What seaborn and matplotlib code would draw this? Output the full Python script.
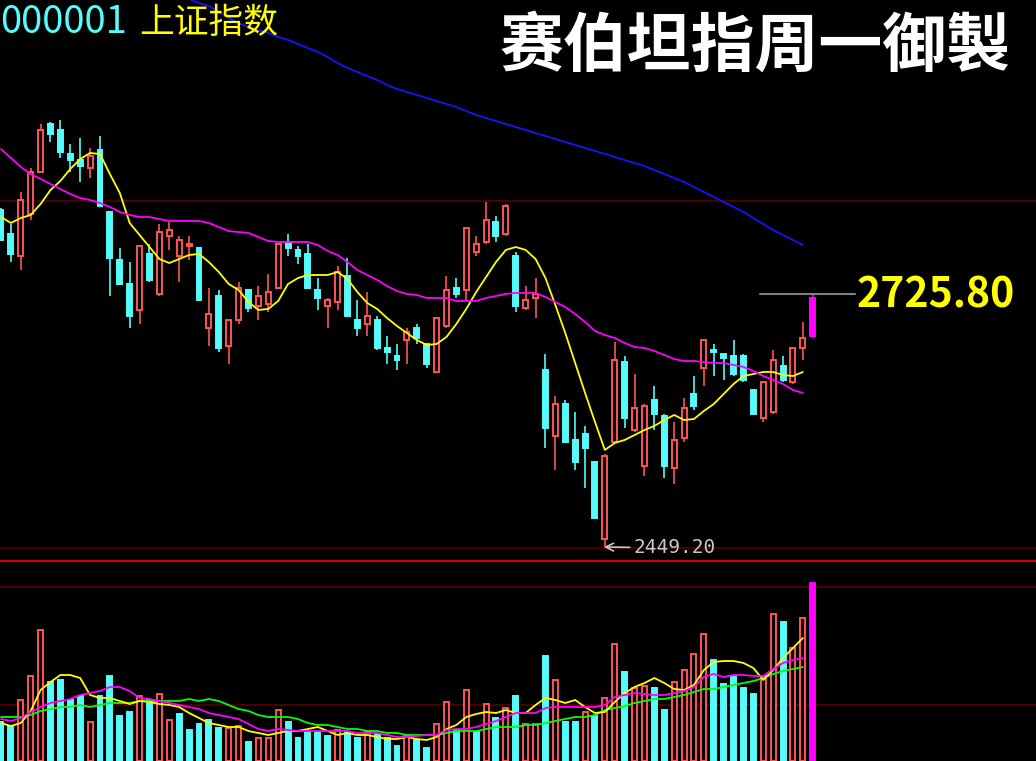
import numpy as np
import pandas as pd
import matplotlib
matplotlib.use("Agg")
import matplotlib.pyplot as plt
from matplotlib.patches import Rectangle
import seaborn as sns

# Daily bars of 000001 (Shanghai Composite)
opens = [2817.6, 2791.3, 2767.3, 2813.2, 2859.1, 2911.6, 2905.0, 2878.8, 2872.2, 2863.5,
         2883.2, 2815.4, 2762.9, 2736.7, 2708.3, 2769.5, 2725.8, 2789.2, 2767.3, 2778.2,
         2776.0, 2688.6, 2723.6, 2668.9, 2697.3, 2730.1, 2712.6, 2714.8, 2732.3, 2782.6,
         2773.9, 2769.5, 2730.1, 2712.6, 2717.0, 2745.4, 2697.3, 2693.0, 2697.3, 2666.7,
         2658.0, 2675.5, 2688.6, 2671.1, 2640.5, 2690.8, 2732.3, 2730.1, 2771.7, 2782.6,
         2804.5, 2791.3, 2767.3, 2710.5, 2721.4, 2642.7, 2570.6, 2605.5, 2566.2, 2572.7,
         2542.1, 2458.0, 2564.0, 2651.4, 2577.1, 2537.8, 2609.9, 2592.4, 2535.6, 2568.4,
         2616.5, 2644.9, 2664.6, 2660.2, 2658.0, 2658.0, 2620.8, 2590.2, 2596.8, 2647.1,
         2629.6, 2666.7, 2679.9]
highs = [2819.8, 2802.3, 2837.2, 2863.5, 2911.6, 2913.8, 2915.9, 2889.7, 2896.3, 2885.3,
         2898.5, 2815.4, 2776.0, 2760.7, 2778.2, 2780.4, 2802.3, 2804.5, 2789.2, 2789.2,
         2776.0, 2732.3, 2730.1, 2697.3, 2738.9, 2730.1, 2734.5, 2747.6, 2780.4, 2791.3,
         2778.2, 2780.4, 2743.2, 2721.4, 2756.4, 2765.1, 2719.2, 2727.9, 2701.7, 2679.9,
         2671.1, 2688.6, 2693.0, 2671.1, 2699.5, 2745.4, 2743.2, 2797.9, 2789.2, 2826.3,
         2811.0, 2824.1, 2771.7, 2734.5, 2743.2, 2660.2, 2614.3, 2609.9, 2596.8, 2581.5,
         2542.1, 2550.9, 2673.3, 2658.0, 2638.3, 2605.5, 2625.2, 2594.6, 2585.9, 2612.1,
         2636.1, 2675.5, 2671.1, 2660.2, 2675.5, 2660.2, 2620.8, 2629.6, 2664.6, 2658.0,
         2666.7, 2695.2, 2725.8]
lows = [2784.8, 2760.7, 2752.0, 2806.6, 2859.1, 2891.9, 2874.4, 2859.1, 2848.2, 2852.6,
        2821.9, 2723.6, 2736.7, 2688.6, 2693.0, 2738.9, 2723.6, 2773.9, 2738.9, 2762.9,
        2719.2, 2668.9, 2662.4, 2649.3, 2693.0, 2706.1, 2697.3, 2706.1, 2732.3, 2767.3,
        2758.5, 2732.3, 2708.3, 2688.6, 2708.3, 2701.7, 2679.9, 2679.9, 2664.6, 2649.3,
        2642.7, 2649.3, 2671.1, 2644.9, 2640.5, 2688.6, 2721.4, 2719.2, 2767.3, 2780.4,
        2782.6, 2789.2, 2706.1, 2708.3, 2699.5, 2557.4, 2533.4, 2564.0, 2533.4, 2513.7,
        2480.9, 2449.2, 2564.0, 2579.3, 2574.9, 2526.8, 2577.1, 2524.7, 2518.1, 2564.0,
        2599.0, 2625.2, 2636.1, 2631.8, 2636.1, 2629.6, 2594.6, 2585.9, 2594.6, 2629.6,
        2627.4, 2653.6, 2677.7]
closes = [2784.8, 2769.5, 2828.5, 2859.1, 2905.0, 2900.6, 2881.0, 2872.2, 2865.7, 2876.6,
          2821.9, 2765.1, 2736.7, 2701.7, 2778.2, 2741.1, 2793.5, 2795.7, 2784.8, 2780.4,
          2719.2, 2703.9, 2666.7, 2697.3, 2732.3, 2710.5, 2723.6, 2727.9, 2780.4, 2776.0,
          2767.3, 2732.3, 2721.4, 2719.2, 2749.8, 2701.7, 2688.6, 2701.7, 2666.7, 2662.4,
          2653.6, 2684.2, 2677.7, 2649.3, 2699.5, 2730.1, 2725.8, 2797.9, 2780.4, 2806.6,
          2789.2, 2821.9, 2712.6, 2719.2, 2725.8, 2579.3, 2605.5, 2564.0, 2542.1, 2557.4,
          2480.9, 2548.7, 2653.6, 2590.2, 2601.2, 2603.3, 2594.6, 2537.8, 2566.2, 2601.2,
          2603.3, 2675.5, 2662.4, 2655.8, 2638.3, 2631.8, 2594.6, 2629.6, 2653.6, 2631.8,
          2666.7, 2677.7, 2721.4]

# moving averages on the price pane (the last bar has none)
ma_short = [2809.9, 2803.4, 2808.8, 2812.1, 2824.1, 2839.4, 2849.3, 2862.4, 2873.3, 2879.9,
            2878.8, 2856.9, 2836.2, 2803.4, 2790.2, 2777.1, 2764.0, 2759.6, 2764.0, 2768.4,
            2769.5, 2760.7, 2749.8, 2736.7, 2730.1, 2717.0, 2708.3, 2709.4, 2718.1, 2736.7,
            2743.2, 2746.5, 2746.5, 2746.5, 2749.8, 2742.2, 2727.9, 2715.9, 2709.4, 2699.5,
            2690.8, 2683.1, 2675.5, 2670.0, 2671.1, 2678.8, 2693.0, 2709.4, 2727.9, 2744.3,
            2760.7, 2773.9, 2777.1, 2773.9, 2764.0, 2743.2, 2713.7, 2683.1, 2650.3, 2617.6,
            2585.9, 2555.3, 2562.9, 2566.2, 2571.6, 2577.1, 2581.5, 2588.0, 2593.5, 2588.0,
            2589.1, 2597.9, 2605.5, 2616.5, 2627.4, 2636.1, 2638.3, 2640.5, 2640.5, 2637.2,
            2636.1, 2640.5]
ma_mid = [2884.2, 2874.4, 2864.6, 2856.9, 2851.5, 2846.0, 2840.5, 2835.1, 2830.7, 2828.5,
          2825.2, 2820.9, 2815.4, 2812.1, 2809.9, 2809.9, 2807.7, 2805.6, 2805.6, 2805.6,
          2805.6, 2803.4, 2799.0, 2794.6, 2793.5, 2792.4, 2788.1, 2783.7, 2782.6, 2782.6,
          2782.6, 2782.6, 2779.3, 2772.8, 2768.4, 2760.7, 2752.0, 2746.5, 2741.1, 2734.5,
          2729.0, 2725.8, 2724.7, 2721.4, 2721.4, 2721.4, 2718.1, 2718.1, 2718.1, 2721.4,
          2723.6, 2725.8, 2726.9, 2726.9, 2726.9, 2722.5, 2717.0, 2711.5, 2703.9, 2695.2,
          2685.3, 2680.9, 2677.7, 2672.2, 2667.8, 2666.7, 2663.5, 2659.1, 2654.7, 2652.5,
          2652.5, 2651.4, 2650.3, 2650.3, 2648.2, 2646.0, 2641.6, 2636.1, 2631.8, 2627.4,
          2620.8, 2617.6]
long_start = 18
ma_long = [3051.5, 3048.2, 3043.8, 3040.5, 3034.0, 3027.4, 3021.9, 3017.6, 3014.3, 3011.0,
           3006.7, 3003.4, 2999.0, 2994.6, 2990.3, 2984.8, 2978.2, 2972.8, 2968.4, 2964.0,
           2959.7, 2954.2, 2949.8, 2946.5, 2943.3, 2940.0, 2936.7, 2933.4, 2930.1, 2925.8,
           2921.4, 2918.1, 2914.8, 2911.6, 2908.3, 2905.0, 2901.7, 2898.5, 2895.2, 2891.9,
           2888.6, 2885.3, 2882.1, 2878.8, 2875.5, 2872.2, 2868.9, 2865.7, 2861.3, 2856.9,
           2852.6, 2848.2, 2842.7, 2837.2, 2831.8, 2826.3, 2820.9, 2815.4, 2808.8, 2802.3,
           2795.7, 2790.2, 2784.8, 2779.3]

# volume pane (arbitrary units)
volume = [39, 35, 61, 85, 131, 79, 81, 61, 65, 39,
          65, 85, 45, 49, 65, 61, 67, 41, 47, 31,
          37, 41, 33, 33, 35, 19, 23, 23, 51, 39,
          23, 29, 29, 25, 31, 29, 23, 29, 27, 23,
          15, 25, 21, 13, 37, 59, 31, 71, 29, 57,
          43, 53, 65, 37, 37, 105, 81, 39, 39, 49,
          45, 63, 117, 89, 73, 75, 73, 51, 79, 91,
          107, 127, 101, 77, 85, 73, 67, 85, 147, 139,
          113, 143, 178]
vol_ma5 = [38, 35, 38, 50, 71, 79, 86, 86, 83, 66,
           63, 63, 60, 57, 60, 59, 57, 56, 54, 48,
           43, 38, 36, 34, 34, 30, 28, 26, 28, 30,
           30, 32, 34, 30, 26, 28, 26, 26, 24, 22,
           22, 24, 22, 21, 24, 32, 36, 44, 47, 49,
           48, 51, 48, 48, 56, 63, 61, 58, 61, 54,
           48, 49, 59, 68, 74, 78, 83, 78, 72, 71,
           76, 91, 99, 100, 100, 98, 93, 81, 91, 103,
           113, 123]
vol_ma10 = [42, 40, 43, 49, 54, 58, 60, 62, 66, 68,
            70, 74, 74, 70, 63, 62, 60, 58, 56, 54,
            52, 48, 46, 44, 42, 37, 32, 30, 32, 31,
            30, 30, 30, 30, 30, 30, 28, 28, 28, 26,
            24, 24, 25, 26, 26, 31, 32, 32, 34, 37,
            40, 44, 48, 48, 48, 53, 54, 54, 54, 54,
            54, 56, 64, 66, 68, 67, 66, 66, 68, 70,
            74, 84, 87, 84, 86, 86, 85, 85, 92, 98,
            101, 103]
vol_ma20 = [44, 44, 44, 46, 50, 52, 54, 54, 56, 54,
            56, 58, 58, 58, 60, 60, 60, 60, 60, 62,
            60, 62, 60, 56, 52, 50, 46, 44, 44, 44,
            42, 38, 36, 36, 34, 32, 32, 30, 30, 28,
            28, 26, 26, 26, 26, 28, 30, 30, 30, 32,
            34, 34, 34, 36, 36, 38, 40, 42, 44, 44,
            46, 51, 53, 55, 58, 60, 62, 62, 64, 66,
            69, 72, 72, 74, 76, 78, 80, 83, 87, 90,
            92, 94]

sns.set_theme(style="dark", rc={"axes.facecolor": "black", "figure.facecolor": "black"})
plt.rcParams["font.family"] = ["Noto Sans CJK SC", "DejaVu Sans"]

RED = "#ff5454"
CYAN = "#54fcfc"
MAG = "#ff00ff"
YEL = "#ffff00"
GRID = "#480000"
GRAY = "#c8c8c8"

bars = pd.DataFrame({"open": opens, "high": highs, "low": lows,
                     "close": closes, "vol": volume})
n = len(bars)
x = np.arange(n)
bars["up"] = bars["close"] >= bars["open"]
prev = bars["close"].shift(1)
# volume colour follows the change against the previous close
bars["vol_up"] = (bars["close"] >= prev).where(prev.notna(), bars["up"]).astype(bool)

W, H = 1036, 761
fig = plt.figure(figsize=(W / 100, H / 100), dpi=100, facecolor="black")
ax = fig.add_axes([0, 201 / H, 1, 560 / H])
axv = fig.add_axes([0, 0, 1, 199 / H])
for a in (ax, axv):
    a.set_axis_off()
    a.set_xlim(-0.1, 104.55)
ax.set_ylim(2435.0, 3047.1)
axv.set_ylim(0, 199)

# -------------------------------
# price pane: candles
# -------------------------------
body_w = 0.5
edge_lw = 1.4
for i, r in bars.iterrows():
    top, bot = max(r.open, r.close), min(r.open, r.close)
    h = max(top - bot, 0.8)
    if i == n - 1:
        col, face = MAG, MAG
    elif r.up:
        col, face = RED, "black"
    else:
        col, face = CYAN, CYAN
    ax.vlines(i, top, r.high, color=col, lw=1.2, zorder=2)
    ax.vlines(i, r.low, bot, color=col, lw=1.2, zorder=2)
    ax.add_patch(Rectangle((i - body_w / 2, bot), body_w, h, facecolor=face,
                           edgecolor=col, lw=edge_lw, zorder=3))

sns.lineplot(x=x[:len(ma_short)], y=ma_short, ax=ax, color=YEL, lw=1.3, zorder=4)
sns.lineplot(x=x[:len(ma_mid)], y=ma_mid, ax=ax, color=MAG, lw=1.3, zorder=4)
sns.lineplot(x=x[long_start:long_start + len(ma_long)], y=ma_long, ax=ax,
             color="#1414ff", lw=1.3, zorder=4)

ax.axhline(2827.4, color=GRID, lw=1.5, zorder=0)
ax.axhline(2448.1, color=GRID, lw=1.5, zorder=0)

# last price marker
hi = bars["high"].iloc[-1]
ax.plot([n - 1 - 5.3, n - 1 + 4.3], [hi, hi], color="#808080", lw=1.5, zorder=2)
ax.text(n - 1 + 4.4, hi - 15, f"{hi:.2f}", color=YEL, fontsize=29.5,
        fontweight="bold", va="baseline", ha="left")

# lowest point marker
j = int(bars["low"].idxmin())
lo = bars["low"].min()
ax.annotate(f"{lo:.2f}", xy=(j - 0.1, lo), xytext=(j + 2.85, lo - 1),
            color=GRAY, fontsize=14, family="DejaVu Sans Mono", va="center", ha="left",
            arrowprops=dict(arrowstyle="->", color=GRAY, lw=1.2,
                            shrinkA=0, shrinkB=0))

# -------------------------------
# volume pane
# -------------------------------
vcol = [MAG if i == n - 1 else (RED if u else CYAN) for i, u in enumerate(bars["vol_up"])]
vface = [MAG if i == n - 1 else ("black" if u else CYAN) for i, u in enumerate(bars["vol_up"])]
axv.bar(x, bars["vol"], width=body_w, color=vface, edgecolor=vcol, lw=edge_lw, zorder=2)
axv.axhline(174, color=GRID, lw=1.5, zorder=0)
axv.axhline(56, color=GRID, lw=1.5, zorder=0)
sns.lineplot(x=x[:len(vol_ma5)], y=vol_ma5, ax=axv, color=YEL, lw=1.3, zorder=4)
sns.lineplot(x=x[:len(vol_ma10)], y=vol_ma10, ax=axv, color=MAG, lw=1.3, zorder=4)
sns.lineplot(x=x[:len(vol_ma20)], y=vol_ma20, ax=axv, color="#00ff00", lw=1.3, zorder=3)

fig.add_artist(plt.Line2D([0, 1], [1 - 561 / H] * 2, color="#c80000", lw=1.5))

# titles
fig.text(0.0, 1 - 33 / H, "000001", color=CYAN, fontsize=27.5, va="baseline", ha="left")
fig.text(139 / W, 1 - 33 / H, "上证指数", color=YEL, fontsize=25, va="baseline", ha="left")
fig.text(500 / W, 1 - 66 / H, "赛伯坦指周一御製", color="white", fontsize=46,
         fontweight="bold", va="baseline", ha="left")

fig.savefig("out.png", dpi=100, facecolor="black")
